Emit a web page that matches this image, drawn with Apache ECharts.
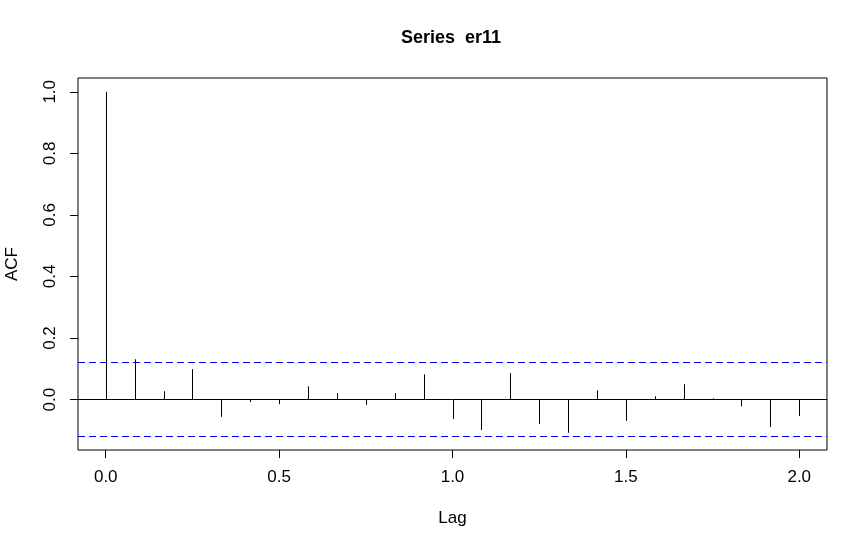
<!DOCTYPE html>
<html>
<head>
<meta charset="utf-8">
<script src="https://cdn.jsdelivr.net/npm/echarts@6/dist/echarts.min.js"></script>
<style>html,body{margin:0;padding:0;background:#fff}#c{width:865px;height:548px}</style>
</head>
<body>
<div id="c"></div>
<script>
var lags = [0, 0.0833, 0.1667, 0.25, 0.3333, 0.4167, 0.5, 0.5833, 0.6667, 0.75, 0.8333, 0.9167,
            1.0, 1.0833, 1.1667, 1.25, 1.3333, 1.4167, 1.5, 1.5833, 1.6667, 1.75, 1.8333, 1.9167, 2.0];
var acf = [1.0, 0.131, 0.027, 0.099, -0.056, -0.008, -0.015, 0.043, 0.021, -0.017, 0.021, 0.082,
           -0.063, -0.099, 0.086, -0.079, -0.108, 0.030, -0.069, 0.011, 0.050, 0.004, -0.022, -0.089, -0.053];
var ciBound = 0.119;
var xTicks = [0, 0.5, 1.0, 1.5, 2.0];
var yTicks = [0, 0.2, 0.4, 0.6, 0.8, 1.0];
var titleText = 'Series  er11';

var font = '"Liberation Sans", Arial, sans-serif';
var chart = echarts.init(document.getElementById('c'), null, {renderer: 'canvas'});
var pts = lags.map(function (l, i) { return [l, acf[i]]; });
chart.setOption({
  animation: false,
  backgroundColor: '#fff',
  title: {
    text: titleText, left: 446, top: 24, textAlign: 'center',
    textStyle: {fontFamily: font, fontWeight: 'bold', fontSize: 18, color: '#000'}
  },
  grid: {left: 78, right: 38, top: 78, bottom: 98, outerBoundsMode: 'none', containLabel: false,
    show: true, borderColor: '#000', borderWidth: 1, backgroundColor: 'transparent'},
  xAxis: {
    type: 'value', min: -0.08, max: 2.08,
    name: 'Lag', nameLocation: 'middle', nameGap: 60,
    nameTextStyle: {fontFamily: font, fontSize: 17, color: '#000'},
    axisLine: {show: false, onZero: false},
    splitLine: {show: false},
    axisTick: {show: true, length: 8, inside: false, customValues: xTicks, lineStyle: {color: '#000'}},
    axisLabel: {customValues: xTicks, margin: 19, fontFamily: font, fontSize: 17, color: '#000',
      formatter: function (v) { return v.toFixed(1); }}
  },
  yAxis: {
    type: 'value', min: -0.1638, max: 1.0448,
    name: 'ACF', nameLocation: 'middle', nameGap: 57, nameRotate: 90,
    nameTextStyle: {fontFamily: font, fontSize: 17, color: '#000'},
    axisLine: {show: false, onZero: false},
    splitLine: {show: false},
    axisTick: {show: true, length: 8, customValues: yTicks, lineStyle: {color: '#000'}},
    axisLabel: {customValues: yTicks, rotate: 90, margin: 19, fontFamily: font, fontSize: 17, color: '#000',
      formatter: function (v) { return v.toFixed(1); }}
  },
  series: [{
    type: 'custom',
    data: pts,
    renderItem: function (params, api) {
      var p0 = api.coord([api.value(0), 0]);
      var p1 = api.coord([api.value(0), api.value(1)]);
      var x = Math.round(p0[0]) + 0.5;
      return {type: 'line', shape: {x1: x, y1: p0[1], x2: x, y2: p1[1]},
        style: {stroke: '#000', lineWidth: 1}};
    },
    markLine: {
      silent: true, symbol: 'none', label: {show: false},
      data: [
        {yAxis: 0, lineStyle: {color: '#000', type: 'solid', width: 1}},
        {yAxis: ciBound, lineStyle: {color: '#0000ff', type: [7, 4], width: 1}},
        {yAxis: -ciBound, lineStyle: {color: '#0000ff', type: [7, 4], width: 1}}
      ]
    }
  }]
});
</script>
</body>
</html>
